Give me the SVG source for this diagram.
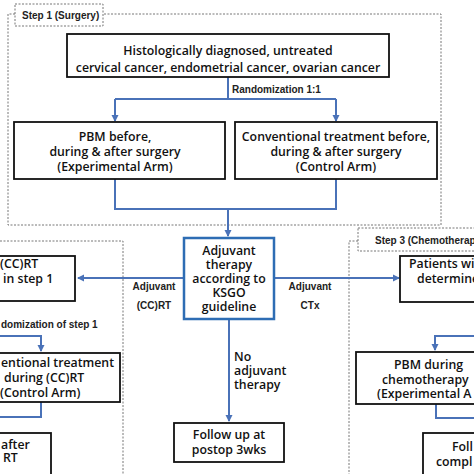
<svg xmlns="http://www.w3.org/2000/svg" width="474" height="474" viewBox="0 0 474 474">
<defs>
<marker id="ah" markerWidth="8" markerHeight="8" refX="6" refY="4" orient="auto" markerUnits="userSpaceOnUse">
<path d="M0,0.5 L7,4 L0,7.5 Z" fill="#4a72b8"/>
</marker>
<style>
.box{fill:#fff;stroke:#111;stroke-width:1.8}
.bbox{fill:#fff;stroke:#2e6db4;stroke-width:2.5}
.dash{fill:none;stroke:#777;stroke-width:1;stroke-dasharray:2,1.5}
.dlab{fill:#fff;stroke:#777;stroke-width:1;stroke-dasharray:2,1.5}
.t{font-family:"Open Sans","Noto Sans",sans-serif;font-weight:600;font-size:12.3px;fill:#111;text-anchor:middle}
.ts{text-anchor:start}
.l{font-family:"Liberation Sans",Arial,sans-serif;font-weight:bold;font-size:10px;fill:#222}
.c{fill:none;stroke:#4a72b8;stroke-width:2}
</style>
</defs>
<rect width="474" height="474" fill="#fff"/>

<g id="step-frames">
<path class="dash" d="M15,14 H8 V225 H441 V14 H103"/>
<rect class="dlab" x="15" y="4" width="88" height="22"/>
<text class="l" x="22" y="19">Step 1 (Surgery)</text>
<path class="dash" d="M0,241 H123 V474"/>
<path class="dash" d="M358,241 H349 V474"/>
<rect class="dlab" x="358" y="228" width="120" height="23"/>
<text class="l" x="375" y="244">Step 3 (Chemotherap</text>
</g>

<g id="connectors">
<path class="c" d="M228,77 V99"/>
<path class="c" d="M115,99 H336"/>
<path class="c" d="M115,99 V121" marker-end="url(#ah)"/>
<path class="c" d="M336,99 V121" marker-end="url(#ah)"/>
<path class="c" d="M115,179 V209 H336 V179"/>
<path class="c" d="M228,209 V236" marker-end="url(#ah)"/>
<path class="c" d="M184,278 H78" marker-end="url(#ah)"/>
<path class="c" d="M274,278 H399" marker-end="url(#ah)"/>
<path class="c" d="M229,319 V421" marker-end="url(#ah)"/>
<path class="c" d="M0,336 H41 V351" marker-end="url(#ah)"/>
<path class="c" d="M41,402 V417 H0"/>
<path class="c" d="M474,336 H435 V350" marker-end="url(#ah)"/>
<path class="c" d="M436,404 V418 H474"/>
<text class="l" x="232" y="93">Randomization 1:1</text>
<text class="l" text-anchor="middle"><tspan x="154" y="290">Adjuvant</tspan><tspan x="154" y="309">(CC)RT</tspan></text>
<text class="l" text-anchor="middle"><tspan x="310" y="290">Adjuvant</tspan><tspan x="310" y="309">CTx</tspan></text>
<text class="l" x="1" y="328">domization of step 1</text>
<text class="t ts"><tspan x="234" y="361">No</tspan><tspan x="234" y="375">adjuvant</tspan><tspan x="234" y="389">therapy</tspan></text>
</g>

<g id="n-top">
<rect class="box" x="67" y="34" width="322" height="43"/>
<text class="t"><tspan x="228" y="55">Histologically diagnosed, untreated</tspan><tspan x="228" y="72">cervical cancer, endometrial cancer, ovarian cancer</tspan></text>
</g>

<g id="n-pbm-surgery">
<rect class="box" x="14" y="122" width="211" height="57"/>
<text class="t"><tspan x="115" y="141">PBM before,</tspan><tspan x="115" y="156">during &amp; after surgery</tspan><tspan x="115" y="171">(Experimental Arm)</tspan></text>
</g>

<g id="n-conv-surgery">
<rect class="box" x="235" y="122" width="202" height="57"/>
<text class="t"><tspan x="336" y="141">Conventional treatment before,</tspan><tspan x="336" y="156">during &amp; after surgery</tspan><tspan x="336" y="171">(Control Arm)</tspan></text>
</g>

<g id="n-adjuvant">
<rect class="bbox" x="184" y="238" width="90" height="81"/>
<text class="t"><tspan x="229" y="255">Adjuvant</tspan><tspan x="229" y="269">therapy</tspan><tspan x="229" y="283">according to</tspan><tspan x="229" y="297">KSGO</tspan><tspan x="229" y="311">guideline</tspan></text>
</g>

<g id="n-ccrt-step1">
<rect class="box" x="-5" y="256" width="80" height="45"/>
<text class="t ts"><tspan x="0" y="268">(CC)RT</tspan><tspan x="3" y="283">in step 1</tspan></text>
</g>

<g id="n-conv-ccrt">
<rect class="box" x="-5" y="353" width="125" height="49"/>
<text class="t ts"><tspan x="1" y="367">entional treatment</tspan><tspan x="4" y="382">during (CC)RT</tspan><tspan x="0" y="397">(Control Arm)</tspan></text>
</g>

<g id="n-after-rt">
<rect class="box" x="-5" y="433" width="56" height="45"/>
<text class="t ts"><tspan x="1" y="449">after</tspan><tspan x="3" y="462">RT</tspan></text>
</g>

<g id="n-follow">
<rect class="box" x="174" y="423" width="110" height="39"/>
<text class="t"><tspan x="229" y="439">Follow up at</tspan><tspan x="229" y="454">postop 3wks</tspan></text>
</g>

<g id="n-patients">
<rect class="box" x="400" y="256" width="80" height="46"/>
<text class="t ts"><tspan x="409" y="268">Patients wi</tspan><tspan x="417" y="283">determine</tspan></text>
</g>

<g id="n-pbm-chemo">
<rect class="box" x="356" y="352" width="124" height="52"/>
<text class="t ts"><tspan x="394" y="369">PBM during</tspan><tspan x="382" y="384">chemotherapy</tspan><tspan x="377" y="398">(Experimental A</tspan></text>
</g>

<g id="n-follow-chemo">
<rect class="box" x="423" y="433" width="60" height="45"/>
<text class="t ts"><tspan x="452" y="451">Foll</tspan><tspan x="436" y="466">compl</tspan></text>
</g>
</svg>
